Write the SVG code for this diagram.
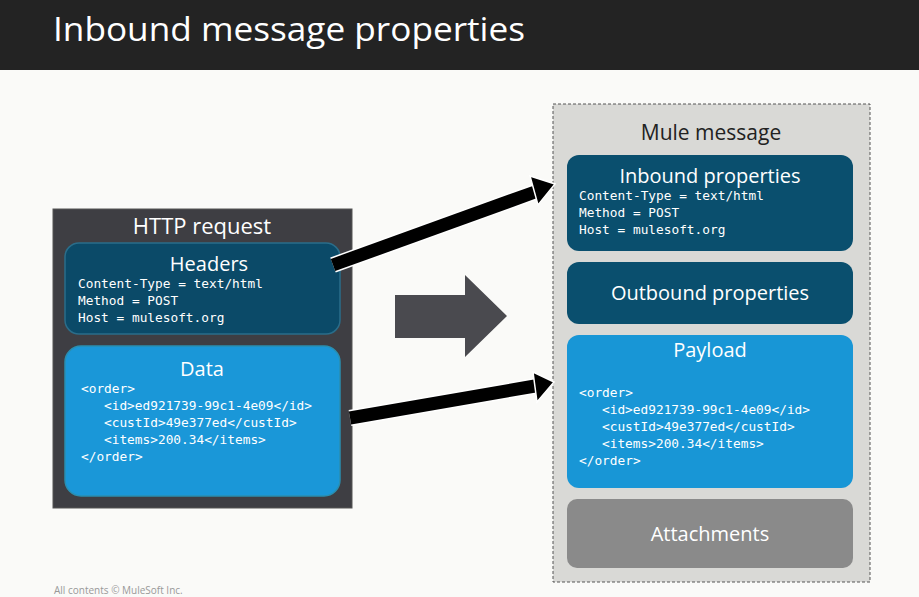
<svg xmlns="http://www.w3.org/2000/svg" width="919" height="597" viewBox="0 0 919 597">
<style>
.h{font-family:"Open Sans","DejaVu Sans",sans-serif;fill:#fff;text-anchor:middle}
.m{font-family:"DejaVu Sans Mono","Liberation Mono",monospace;font-size:12.8px;fill:#fff}
.box{stroke:#2a6d8a;stroke-width:1.5}
</style>
<rect width="919" height="597" fill="#fafaf8"/>
<rect width="919" height="70" fill="#232323"/>
<text x="53" y="41" font-family="'Open Sans','DejaVu Sans',sans-serif" font-size="33" fill="#fff" textLength="472" lengthAdjust="spacingAndGlyphs">Inbound message properties</text>

<g id="http">
<rect x="53" y="209" width="299" height="299" fill="#3e3e43" stroke="#555" stroke-width="1"/>
<text class="h" x="202" y="234" font-size="22">HTTP request</text>
</g>
<g id="headers">
<rect class="box" x="65" y="243" width="275" height="91" rx="14" fill="#0b4a68"/>
<text class="h" x="209" y="271" font-size="20">Headers</text>
<text class="m" x="78" y="288">Content-Type = text/html</text>
<text class="m" x="78" y="305">Method = POST</text>
<text class="m" x="78" y="322">Host = mulesoft.org</text>
</g>
<g id="data">
<rect x="65" y="346" width="275" height="150" rx="16" fill="#1a97d8" stroke="#2a8fb0" stroke-width="1.5"/>
<text class="h" x="202" y="376" font-size="20">Data</text>
<text class="m" x="81" y="393">&lt;order&gt;</text>
<text class="m" x="104" y="410">&lt;id&gt;ed921739-99c1-4e09&lt;/id&gt;</text>
<text class="m" x="104" y="427">&lt;custId&gt;49e377ed&lt;/custId&gt;</text>
<text class="m" x="104" y="444">&lt;items&gt;200.34&lt;/items&gt;</text>
<text class="m" x="81" y="461">&lt;/order&gt;</text>
</g>

<g id="mule">
<rect x="553" y="104" width="317" height="478" fill="#d9d9d6" stroke="#555" stroke-width="1" stroke-dasharray="3,2"/>
<text x="711" y="140" font-family="'Open Sans','DejaVu Sans',sans-serif" font-size="21" fill="#222" text-anchor="middle">Mule message</text>
</g>
<g id="inbound">
<rect x="567" y="155" width="286" height="96" rx="12" fill="#0a4f6e"/>
<text class="h" x="710" y="183" font-size="20">Inbound properties</text>
<text class="m" x="579" y="200">Content-Type = text/html</text>
<text class="m" x="579" y="217">Method = POST</text>
<text class="m" x="579" y="234">Host = mulesoft.org</text>
</g>
<g id="outbound">
<rect x="567" y="262" width="286" height="62" rx="12" fill="#0a4f6e"/>
<text class="h" x="710" y="300" font-size="20">Outbound properties</text>
</g>
<g id="payload">
<rect x="567" y="335" width="286" height="153" rx="12" fill="#1896d6"/>
<text class="h" x="710" y="357" font-size="20">Payload</text>
<text class="m" x="579" y="397">&lt;order&gt;</text>
<text class="m" x="602" y="414">&lt;id&gt;ed921739-99c1-4e09&lt;/id&gt;</text>
<text class="m" x="602" y="431">&lt;custId&gt;49e377ed&lt;/custId&gt;</text>
<text class="m" x="602" y="448">&lt;items&gt;200.34&lt;/items&gt;</text>
<text class="m" x="579" y="465">&lt;/order&gt;</text>
</g>
<g id="attachments">
<rect x="567" y="499" width="286" height="69" rx="10" fill="#8a8a8a"/>
<text class="h" x="710" y="541" font-size="20">Attachments</text>
</g>

<g id="connectors">
<polygon points="395,295 465,295 465,275 507,316 465,357 465,338 395,338" fill="#4a4a4f"/>
<line x1="333" y1="265" x2="535" y2="192" stroke="#fff" stroke-width="16"/>
<line x1="333" y1="265" x2="535" y2="192" stroke="#000" stroke-width="13"/>
<polygon points="530,176 555,184 538,205" fill="#000" stroke="#fff" stroke-width="1.5"/>
<line x1="350" y1="418" x2="535" y2="386" stroke="#fff" stroke-width="16"/>
<line x1="350" y1="418" x2="535" y2="386" stroke="#000" stroke-width="13"/>
<polygon points="533,372 554,382 537,402" fill="#000" stroke="#fff" stroke-width="1.5"/>
</g>
<text x="54" y="594" font-family="'Open Sans','DejaVu Sans',sans-serif" font-size="10" fill="#999">All contents © MuleSoft Inc.</text>
</svg>
